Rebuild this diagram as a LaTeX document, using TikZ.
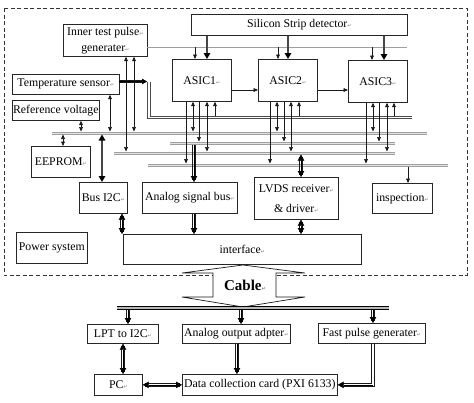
\documentclass[tikz,border=0pt]{standalone}
\usepackage{fontspec}
\setmainfont{Liberation Serif}
\newfontfamily\djv{DejaVu Sans}
\usetikzlibrary{arrows.meta,calc}
\newcommand\pmk{{\djv\fontsize{5}{5}\selectfont\textcolor{gray}{↵}}}
% double line drawn as two thin strokes: #1 tips, #2 edge shortening, #3 start, #4 end
\newcommand\dl[4]{%
  \path (#3) coordinate (dA) (#4) coordinate (dB);
  \draw[ln,#2] ($(dA)!1.3pt!90:(dB)$) -- ($(dB)!1.3pt!-90:(dA)$);
  \draw[ln,#2] ($(dA)!1.3pt!-90:(dB)$) -- ($(dB)!1.3pt!90:(dA)$);
  \draw[line width=0.3pt,#1] (dA) -- (dB);}
% gray bus line
\newcommand\bl[2]{%
  \path (#1) coordinate (dA) (#2) coordinate (dB);
  \draw[gray!22, line width=1.4pt] (dA) -- (dB);
  \draw[busl] ($(dA)+(0,-1)$) -- ($(dB)+(0,-1)$);
  \draw[busl] ($(dA)+(0,1)$) -- ($(dB)+(0,1)$);}
\begin{document}
\begin{tikzpicture}[x=1pt,y=-1pt,
  >={Triangle[length=4.5pt,width=3.8pt]},
  box/.style={draw=black!85, line width=0.7pt, inner sep=0pt, anchor=north west,
    font=\fontsize{11.8}{15}\selectfont, align=center},
  ln/.style={draw=black!90, line width=0.7pt},
  busl/.style={draw=gray!75, line width=0.6pt},
  dtip/.tip={Triangle[length=6pt,width=6.5pt]},
  thk/.style={draw=gray!55!black, line width=2.2pt},
  ttip/.tip={Triangle[length=6pt,width=6.5pt,color=black]},
  ]
\useasboundingbox (0,0) rectangle (474,402);
\fill[white] (0,0) rectangle (474,402);

% outer dashed frame
\draw[draw=black!80, line width=0.7pt, dash pattern=on 4pt off 2.5pt] (4,8) rectangle (467,275);

% boxes
\node[box, minimum width=84pt, minimum height=32pt, font=\fontsize{11.8}{16}\selectfont] (itp) at (63,24) {Inner test pulse\pmk\\generater\pmk};
\node[box, minimum width=216pt, minimum height=21pt] (ssd) at (191,14) {Silicon Strip detector\pmk};
\node[box, minimum width=59pt, minimum height=42pt] (asic1) at (172,59) {ASIC1\pmk};
\node[box, minimum width=59pt, minimum height=42pt] (asic2) at (258,59) {ASIC2\pmk};
\node[box, minimum width=59pt, minimum height=42pt] (asic3) at (348,60) {ASIC3\pmk};
\node[box, minimum width=107pt, minimum height=20pt] (temp) at (12,74) {Temperature sensor\pmk};
\node[box, minimum width=87pt, minimum height=20pt] (ref) at (12,100) {Reference voltage};
\node[box, minimum width=59pt, minimum height=31pt] (eeprom) at (31,146) {EEPROM\pmk};
\node[box, minimum width=48pt, minimum height=31pt] (busi2c) at (79,182) {Bus I2C\pmk};
\node[box, minimum width=95pt, minimum height=31pt] (asb) at (142,182) {Analog signal bus\pmk};
\node[box, minimum width=84pt, minimum height=42pt, font=\fontsize{11.8}{20}\selectfont] (lvds) at (254,177) {LVDS receiver\pmk\\\& driver\pmk};
\node[box, minimum width=60pt, minimum height=30pt] (insp) at (372,183) {inspection\pmk};
\node[box, minimum width=71pt, minimum height=31pt] (power) at (16,232) {Power system};
\node[box, minimum width=238pt, minimum height=30pt] (iface) at (123,234) {interface\pmk};
\node[box, minimum width=71pt, minimum height=19pt] (lpt) at (87,324) {LPT to I2C\pmk};
\node[box, minimum width=108pt, minimum height=19pt] (aoa) at (182,324) {Analog output adpter\pmk};
\node[box, minimum width=107pt, minimum height=20pt] (fpg) at (318,323) {Fast pulse generater\pmk};
\node[box, minimum width=48pt, minimum height=21pt] (pc) at (94,374) {PC\pmk};
\node[box, minimum width=155pt, minimum height=21pt] (dcc) at (182,374) {Data collection card (PXI 6133)};

% bus coordinates
\coordinate (b0s) at (147,47);  \coordinate (b0e) at (407,47);
\coordinate (b2s) at (52,133);  \coordinate (b2e) at (427,133);
\coordinate (b3s) at (170,143); \coordinate (b3e) at (395,143);
\coordinate (b4s) at (114,153); \coordinate (b4e) at (395,153);
\coordinate (b5s) at (148,165); \coordinate (b5e) at (448,165);
\coordinate (b1t) at (0,116);
\coordinate (b2t) at (0,131.5); \coordinate (b2b) at (0,134.5);
\coordinate (b3t) at (0,141.5); \coordinate (b3b) at (0,144.5);
\coordinate (b4t) at (0,151.5); \coordinate (b4b) at (0,154.5);
\coordinate (b5t) at (0,163.5); \coordinate (b5b) at (0,166.5);
\coordinate (tA) at (119,81.5); \coordinate (tB) at (147,81.5);
\coordinate (t1) at (149,81.5); \coordinate (t2) at (149,117.5); \coordinate (t3) at (412,117.5);
\coordinate (ay) at (0,90);
\coordinate (bbs) at (117,308); \coordinate (bbe) at (389,308); \coordinate (bbb) at (0,310);

% x positions of vertical connectors
\foreach \nm/\xx in {xa/63, xb/81, xc/102, xd/110, xe/122, xf/126, xg/134, xh/194, xi/301, xj/408,
  xk1/195, xs1/207, xk2/278, xs2/288, xk3/372, xs3/384, xl/128, xm/123, xn/241, xo/237, xp/373}
  \coordinate (\nm) at (\xx,0);

% bus lines
\draw[ln, draw=gray!75] (b0s) -- (b0e);
\bl{b2s}{b2e}
\bl{b3s}{b3e}
\bl{b4s}{b4e}
\bl{b5s}{b5e}
% temperature sensor bus (down, then right)
\draw[draw=black!70, line width=0.7pt] ($(t1)+(1.2,0)$) -- ($(t2)+(1.2,-1.2)$) -- ($(t3)+(0,-1.2)$);
\draw[draw=black!70, line width=0.7pt] ($(t1)+(-1.2,0)$) -- ($(t2)+(-1.2,1.2)$) -- ($(t3)+(0,1.2)$);
\dl{-{Triangle[length=5pt,width=5.5pt]}}{shorten >=2.5pt}{tA}{tB}

% detector -> ASICs, test pulse line -> ASICs
\foreach \k/\s/\a in {xk1/xs1/asic1, xk2/xs2/asic2, xk3/xs3/asic3} {
  \draw[ln,->] (\k |- b0s) -- (\a.north -| \k);
  \draw[thk,-ttip] (ssd.south -| \s) -- (\a.north -| \s);
}
% ASIC chain
\draw[ln,->] (asic1.east |- ay) -- (asic2.west |- ay);
\draw[ln,->] (asic2.east |- ay) -- (asic3.west |- ay);

% ASIC taps to buses
\foreach \n/\a/\b/\c/\d/\e in {asic1/14/21/27/35/43, asic2/12/19/26/33/41, asic3/18/25/31/39/46} {
  \path ([xshift=\a pt]\n.south west) coordinate (p1)
        ([xshift=\b pt]\n.south west) coordinate (p2)
        ([xshift=\c pt]\n.south west) coordinate (p3)
        ([xshift=\d pt]\n.south west) coordinate (p4)
        ([xshift=\e pt]\n.south west) coordinate (p5);
  \draw[ln,->] (p1) -- (p1 |- b5t);
  \draw[ln,<->] (p2) -- (p2 |- b2t);
  \draw[ln,->] (p3) -- (p3 |- b3t);
  \draw[ln,<->] (p4) -- (p4 |- b4t);
  \draw[ln,<-] (p5) -- (p5 |- b1t);
}

% left side connectors
\draw[ln,<->] (itp.south -| xf) -- (xf |- b4t);
\draw[ln,<->] (itp.south -| xg) -- (xg |- b2t);
\draw[ln,<->] (temp.south -| xd) -- (xd |- b2t);
\draw[ln,<->] (ref.south -| xb) -- (xb |- b2t);
\draw[ln,<->] (eeprom.north -| xa) -- (xa |- b2b);
\draw[thk,ttip-ttip] (xc |- b2b) -- (busi2c.north -| xc);
\dl{dtip-dtip}{shorten >=2.5pt, shorten <=2.5pt}{busi2c.south -| xe}{iface.north -| xe}
\dl{-dtip}{shorten >=2.5pt}{xh |- b3b}{asb.north -| xh}
\dl{-dtip}{shorten >=2.5pt}{asb.south -| xh}{iface.north -| xh}
\dl{dtip-dtip}{shorten >=2.5pt, shorten <=2.5pt}{xi |- b4b}{lvds.north -| xi}
\dl{dtip-dtip}{shorten >=2.5pt, shorten <=2.5pt}{lvds.south -| xi}{iface.north -| xi}
\draw[ln,->] (xj |- b5b) -- (insp.north -| xj);

% cable double arrow
\draw[ln, fill=white] (243,265) -- (305,273) -- (276,273) -- (276,297) -- (305,297) -- (243,307)
   -- (182,297) -- (213,297) -- (213,273) -- (182,273) -- cycle;
\node[font=\bfseries\fontsize{15}{15}\selectfont, inner sep=0pt] (cable) at (245,285) {Cable\pmk};

% lower bus
\draw[gray!55, line width=2pt] (bbs) -- (bbe);
\draw[black, line width=0.9pt] ($(bbs)+(0,-1.4)$) -- ($(bbe)+(0,-1.4)$);
\draw[black, line width=0.9pt] ($(bbs)+(0,1.4)$) -- ($(bbe)+(0,1.4)$);
\dl{-dtip}{shorten >=2.5pt}{xl |- bbb}{lpt.north -| xl}
\dl{-dtip}{shorten >=2.5pt}{xn |- bbb}{aoa.north -| xn}
\dl{-dtip}{shorten >=2.5pt}{xp |- bbb}{fpg.north -| xp}
\dl{dtip-dtip}{shorten >=2.5pt, shorten <=2.5pt}{lpt.south -| xm}{pc.north -| xm}
\dl{dtip-dtip}{shorten >=2.5pt, shorten <=2.5pt}{pc.east}{dcc.west}
\dl{-dtip}{shorten >=2.5pt}{aoa.south -| xo}{dcc.north -| xo}
% fast pulse generator -> data collection card (down, then left)
\coordinate (fc) at (xp |- dcc.east);
\draw[ln] ($(fpg.south -| xp)+(-1.3,0)$) -- ($(fc)+(-1.3,-1.3)$) -- ($(dcc.east)+(3,-1.3)$);
\draw[ln] ($(fpg.south -| xp)+(1.3,0)$) -- ($(fc)+(1.3,1.3)$) -- ($(dcc.east)+(3,1.3)$);
\draw[line width=0.3pt,-dtip] (fc) -- (dcc.east);
\end{tikzpicture}
\end{document}
